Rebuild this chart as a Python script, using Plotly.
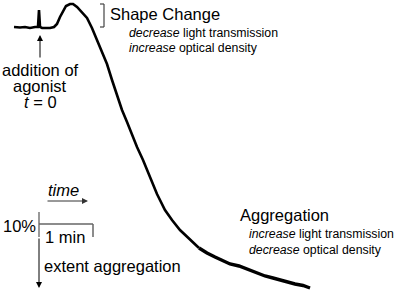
import plotly.graph_objects as go

# Platelet aggregometry trace: time (min) after agonist vs. extent of aggregation (%)
time_min = [-0.463, -0.352, -0.259, -0.167, -0.074, -0.019, 0.0, 0.019, 0.056, 0.130,
            0.204, 0.278, 0.333, 0.389, 0.444, 0.500, 0.574, 0.630, 0.704, 0.796,
            0.889, 0.981, 1.074, 1.167, 1.259, 1.352, 1.444, 1.537, 1.630, 1.722,
            1.815, 1.926, 2.056, 2.185, 2.333, 2.463, 2.611, 2.796, 2.963]
aggregation_pct = [0.0, 0.2, 0.0, 0.4, 0.0, 0.0, -6.8, 0.0, 0.4, 0.4,
                   0.4, 0.0, -1.2, -4.0, -6.4, -8.4, -9.2, -9.2, -8.0, -6.0,
                   -3.6, 0.4, 5.2, 10.0, 14.8, 21.2, 27.2, 33.2, 38.0, 43.2,
                   48.0, 53.2, 60.4, 66.8, 73.2, 77.2, 81.2, 85.2, 88.4]

tail_time_min = [2.963, 3.111, 3.259, 3.407, 3.537, 3.704, 3.796, 3.907, 4.037, 4.185,
                 4.333, 4.463, 4.611, 4.741, 4.889, 5.019]
tail_aggregation_pct = [88.4, 90.4, 92.0, 93.6, 94.8, 95.6, 96.4, 97.2, 98.4, 99.6,
                        100.4, 101.2, 102.0, 102.8, 103.4, 104.4]

PX_PER_MIN = 54.0
PX_PER_PCT = 2.5
X0_PX, Y0_PX = 39.0, 27.0
W, H = 400, 293


def tx(px):
    return (px - X0_PX) / PX_PER_MIN


def ty(py):
    return (py - Y0_PX) / PX_PER_PCT


fig = go.Figure()
fig.add_trace(go.Scatter(x=time_min, y=aggregation_pct, mode="lines",
                         line=dict(color="black", width=2.6), hoverinfo="skip"))
fig.add_trace(go.Scatter(x=tail_time_min, y=tail_aggregation_pct, mode="lines",
                         line=dict(color="black", width=3.4), hoverinfo="skip"))

FONT = "Liberation Sans, Arial, Helvetica, sans-serif"
ann = []


def text(px, py, s, size, xanchor="left"):
    ann.append(dict(x=tx(px), y=ty(py), text=s, showarrow=False, xanchor=xanchor,
                    yanchor="middle", font=dict(family=FONT, size=size, color="black")))


text(108, 14, "Shape Change", 16.5)
text(127, 33, "<i>decrease</i> light transmission", 12.3)
text(127, 48, "<i>increase</i> optical density", 12.3)
text(40, 70, "addition of", 16.5, "center")
text(40, 86, "agonist", 16.5, "center")
text(40, 102, "<i>t</i> = 0", 16.5, "center")
text(63, 190, "<i>time</i>", 16.5, "center")
text(38, 226, "10%", 16.5, "right")
text(43, 237, "1 min", 16.5)
text(42, 266, "extent aggregation", 16.5)
text(238, 215, "Aggregation", 16.5)
text(247, 234, "<i>increase</i> light transmission", 12.3)
text(247, 250, "<i>decrease</i> optical density", 12.3)


def arrow(x1, y1, x0, y0, color):
    ann.append(dict(x=tx(x1), y=ty(y1), ax=tx(x0), ay=ty(y0), axref="x", ayref="y",
                    xref="x", yref="y", showarrow=True, arrowhead=2, arrowsize=1.2,
                    arrowwidth=1, arrowcolor=color, text=""))


arrow(40, 35, 40, 59, "black")       # addition of agonist
arrow(88, 201, 46, 201, "#333333")   # time
arrow(39, 288, 39, 237, "black")     # extent aggregation

shapes = []


def seg(x0, y0, x1, y1, color, w=1.2):
    shapes.append(dict(type="line", x0=tx(x0), y0=ty(y0), x1=tx(x1), y1=ty(y1),
                       xref="x", yref="y", line=dict(color=color, width=w)))


# Shape change bracket
seg(100, 4, 104, 4, "#444444")
seg(104, 4, 104, 27, "#444444")
seg(100, 27, 104, 27, "#444444")
# Scale bar
seg(39, 212, 39, 237, "#555555")
seg(39, 224, 93, 224, "#666666", 1.5)
seg(93, 224, 93, 237, "#666666", 1.5)

fig.update_layout(
    width=W, height=H, margin=dict(l=0, r=0, t=0, b=0),
    paper_bgcolor="white", plot_bgcolor="white", showlegend=False,
    xaxis=dict(range=[tx(0), tx(W)], visible=False, fixedrange=True),
    yaxis=dict(range=[ty(H), ty(0)], visible=False, fixedrange=True),
    annotations=ann, shapes=shapes,
)
fig.write_html("out.html", config={"displayModeBar": False},
               post_script="document.body.style.margin='0';document.body.style.overflow='hidden';")
